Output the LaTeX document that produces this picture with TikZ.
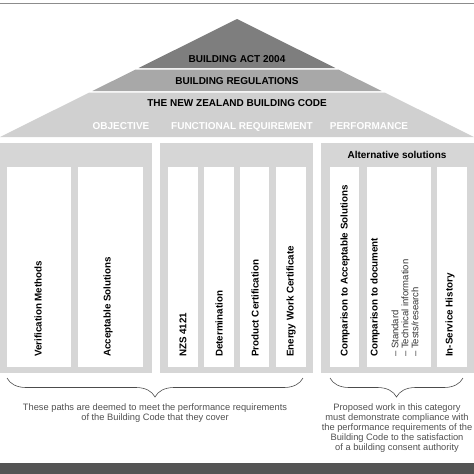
\documentclass[tikz,border=0pt]{standalone}
\usepackage{fontspec}
\setmainfont{Liberation Sans}
\usetikzlibrary{decorations.pathreplacing}
\definecolor{actgray}{HTML}{7E7E7E}
\definecolor{reggray}{HTML}{A8A8A8}
\definecolor{codegray}{HTML}{D0D0D0}
\definecolor{panelgray}{HTML}{D6D6D6}
\definecolor{notegray}{HTML}{505050}

\begin{document}
\begin{tikzpicture}[
  x=1pt, y=-1pt,
  head/.style={inner sep=0pt, font=\fontsize{10}{12}\selectfont\bfseries},
  vlabel/.style={rotate=90, anchor=west, inner sep=0pt, font=\fontsize{9.8}{12}\selectfont\bfseries},
  vitem/.style={rotate=90, anchor=west, inner sep=0pt, text=black!80, font=\fontsize{9.5}{12}\selectfont},
  note/.style={align=center, inner sep=0pt, text=notegray, font=\fontsize{9.3}{10}\selectfont},
  slot/.style={fill=white},
  brc/.style={decorate, decoration={brace, mirror, amplitude=19pt}, draw=black!70, line width=0.6pt}
]
  \useasboundingbox (0,0) rectangle (474,474);

  %--- Frame lines ---
  \draw[black!45, line width=1.3pt] (0,3.5) -- (474,3.5);
  \fill[black!67] (0,463) rectangle (474,474);

  %--- Roof ---
  \fill[actgray]  (237,19) -- (335.4,68) -- (138.6,68) -- cycle;
  \fill[reggray]  (135.6,69.5) -- (338.4,69.5) -- (381.6,91) -- (92.4,91) -- cycle;
  \fill[codegray] (89.4,92.5) -- (384.6,92.5) -- (474,137) -- (0,137) -- cycle;

  \node[head] (act)  at (237,59)  {BUILDING ACT 2004};
  \node[head] (regs) at (237,81.5) {BUILDING REGULATIONS};
  \node[head] (code) at (237,103) {THE NEW ZEALAND BUILDING CODE};
  \node[head, text=white] (obj)  at (121,126.5) {OBJECTIVE};
  \node[head, text=white] (func) at (242,126.5) {FUNCTIONAL REQUIREMENT};
  \node[head, text=white] (perf) at (369,126.5) {PERFORMANCE};

  %--- Panels ---
  \fill[panelgray] (0,143)   rectangle (152,373);
  \fill[panelgray] (160,143) rectangle (313,373);
  \fill[panelgray] (321,143) rectangle (474,373);

  % panel 1
  \fill[slot] (7,167)  rectangle (71,367);
  \fill[slot] (78,167) rectangle (143,367);
  \node[vlabel] (verif) at (38,357)  {Verification Methods};
  \node[vlabel] (accep) at (108,357) {Acceptable Solutions};

  % panel 2
  \fill[slot] (168,167) rectangle (198,367);
  \fill[slot] (204,167) rectangle (234,367);
  \fill[slot] (240,167) rectangle (269,367);
  \fill[slot] (276,167) rectangle (306,367);
  \node[vlabel] (nzs)    at (183,357) {NZS 4121};
  \node[vlabel] (determ) at (219,357) {Determination};
  \node[vlabel] (prod)   at (255,357) {Product Certification};
  \node[vlabel] (energy) at (291,357) {Energy Work Certificate};

  % panel 3
  \node[head] (alt) at (397,155) {Alternative solutions};
  \fill[slot] (330,167) rectangle (359,367);
  \fill[slot] (367,167) rectangle (431,367);
  \fill[slot] (437,167) rectangle (467,367);
  \node[vlabel] (compacc) at (345,357) {Comparison to Acceptable Solutions};
  \node[vlabel] (compdoc) at (375,357) {Comparison to document};
  \node[vitem]  (std)     at (395,357) {– Standard};
  \node[vitem]  (tech)    at (405,357) {– Technical information};
  \node[vitem]  (tests)   at (415,357) {– Tests/research};
  \node[vlabel] (insvc)   at (450,357) {In-Service History};

  %--- Braces ---
  \coordinate (bl1) at (7,378);   \coordinate (bl2) at (303,378);
  \coordinate (br1) at (330,378); \coordinate (br2) at (463,378);
  \draw[brc] (bl1) -- (bl2);
  \draw[brc] (br1) -- (br2);

  \node[note] (deemed) at (155,413)
    {These paths are deemed to meet the performance requirements\\
     of the Building Code that they cover};
  \node[note] (proposed) at (397,428)
    {Proposed work in this category\\
     must demonstrate compliance with\\
     the performance requirements of the\\
     Building Code to the satisfaction\\
     of a building consent authority};
\end{tikzpicture}
\end{document}
